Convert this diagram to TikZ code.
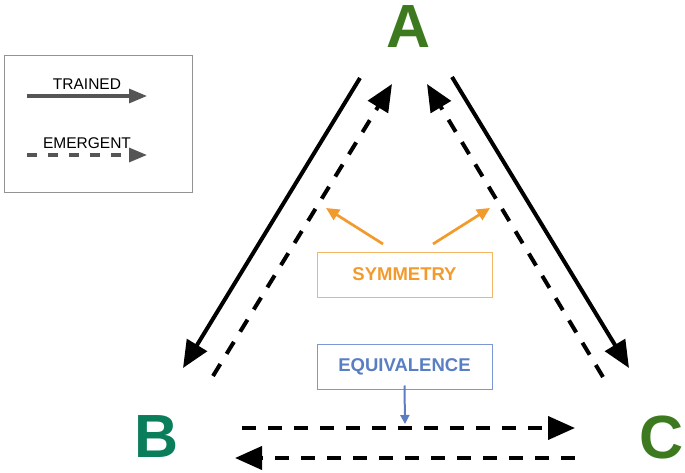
\documentclass[tikz,border=0pt]{standalone}
\usepackage{fontspec}
\setmainfont{Liberation Sans}
\usetikzlibrary{arrows.meta}
\definecolor{agreen}{HTML}{3D7A1F}
\definecolor{bgreen}{HTML}{0A7D5B}
\definecolor{symor}{HTML}{F39A2C}
\definecolor{symbox}{HTML}{F5B565}
\definecolor{eqblue}{HTML}{5A7EC2}
\definecolor{eqbox}{HTML}{7C97D2}
\definecolor{leggray}{HTML}{555555}
\tikzset{
  letter/.style={font=\fontsize{61}{61}\selectfont\bfseries, inner sep=0pt},
  bigarrow/.style={line width=4pt, -{Triangle[length=27pt,width=23pt]}, black},
  dasharrow/.style={bigarrow, dash pattern=on 14pt off 12pt},
  legarrow/.style={line width=3.2pt, leggray, -{Triangle[length=18pt,width=14pt]}},
  legdash/.style={legarrow, dash pattern=on 10pt off 11pt},
  legtext/.style={font=\fontsize{15.5}{15.5}\selectfont, inner sep=0pt},
  tagbox/.style={draw, line width=1pt, minimum width=175pt, minimum height=45pt, font=\fontsize{18.5}{18.5}\selectfont\bfseries},
  symarrow/.style={symor, line width=2.7pt, -{Triangle[length=13pt,width=12pt]}},
  eqarrow/.style={eqblue, line width=2pt, -{Triangle[length=9pt,width=9pt]}}
}
\begin{document}
\begin{tikzpicture}[x=1pt,y=-1pt]
\useasboundingbox (0,0) rectangle (685,473);
% legend
\node[draw=gray!85, line width=1pt, minimum width=188pt, minimum height=137pt, inner sep=0pt] (legend) at (98,124.5) {};
\coordinate (t1) at (27,96); \coordinate (t2) at (147,96);
\coordinate (e1) at (27,155); \coordinate (e2) at (147,155);
\draw[legarrow] (t1) -- (t2);
\draw[legdash] (e1) -- (e2);
\node[legtext] (ttrained) at (87,84) {TRAINED};
\node[legtext] (temergent) at (87,143) {EMERGENT};
% letters
\node[letter, text=agreen] (A) at (409,27) {A};
\node[letter, text=bgreen] (B) at (157,437) {B};
\node[letter, text=agreen] (C) at (662,437) {C};
% endpoints
\coordinate (ls1) at (360,78); \coordinate (ls2) at (183,368);
\coordinate (ld1) at (213,376); \coordinate (ld2) at (392,84);
\coordinate (rs1) at (452,77); \coordinate (rs2) at (629,368);
\coordinate (rd1) at (603,377); \coordinate (rd2) at (427,84);
\coordinate (h1) at (242,428); \coordinate (h2) at (575,428);
\coordinate (g1) at (575,458); \coordinate (g2) at (235,458);
\draw[bigarrow] (ls1) -- (ls2);
\draw[dasharrow] (ld1) -- (ld2);
\draw[bigarrow] (rs1) -- (rs2);
\draw[dasharrow] (rd1) -- (rd2);
\draw[dasharrow] (h1) -- (h2);
\draw[dasharrow] (g1) -- (g2);
% symmetry
\node[tagbox, draw=symbox, text=symor] (sym) at (404.5,274.5) {SYMMETRY};
\coordinate (sa1) at (383,244); \coordinate (sa2) at (326,208);
\coordinate (sb1) at (433,244); \coordinate (sb2) at (490,208);
\draw[symarrow] (sa1) -- (sa2);
\draw[symarrow] (sb1) -- (sb2);
% equivalence
\node[tagbox, draw=eqbox, text=eqblue] (eq) at (404.5,366.5) {EQUIVALENCE};
\coordinate (eqt) at (405,424);
\draw[eqarrow] ([yshift=4pt]eq.south) -- (eqt);
\end{tikzpicture}
\end{document}
